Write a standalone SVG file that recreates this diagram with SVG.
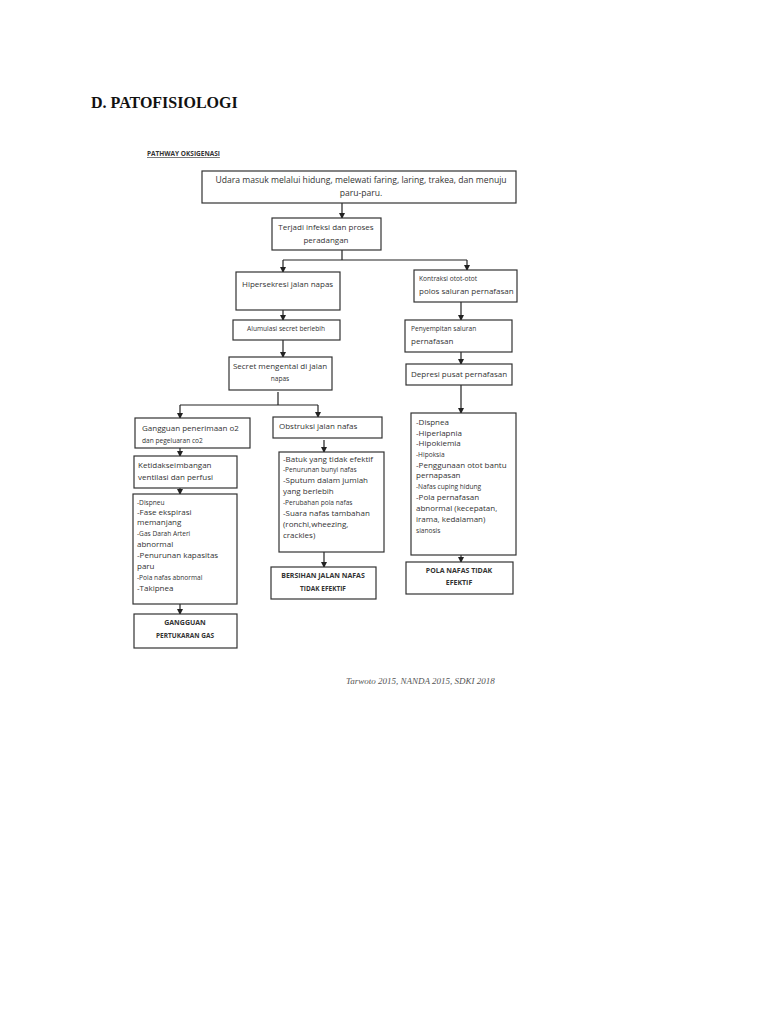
<svg xmlns="http://www.w3.org/2000/svg" width="768" height="1024" viewBox="0 0 768 1024">
<defs><marker id="ah" markerWidth="6" markerHeight="6" refX="5" refY="3" orient="auto" markerUnits="userSpaceOnUse"><path d="M0,0 L6,3 L0,6 Z" fill="#222"/></marker></defs>
<style>
.b{fill:#fff;stroke:#333;stroke-width:1.2}
text{font-family:"Open Sans","Liberation Sans",sans-serif;fill:#333;font-size:8px}
.s{font-size:6.6px}
.c{text-anchor:middle}
.k{font-weight:bold;font-size:7px}
.l{stroke:#222;stroke-width:1.2;fill:none}
</style>
<rect width="768" height="1024" fill="#fff"/>
<text x="91" y="108" style="font-family:'Liberation Serif',serif;font-weight:bold;font-size:16px;fill:#111">D. PATOFISIOLOGI</text>
<text x="147" y="156" class="k" style="font-size:6.5px;text-decoration:underline">PATHWAY OKSIGENASI</text>
<g id="connectors">
<path class="l" d="M342,203V218" marker-end="url(#ah)"/>
<path class="l" d="M342,250V260M283,260H467"/>
<path class="l" d="M283,260V272" marker-end="url(#ah)"/>
<path class="l" d="M467,260V270" marker-end="url(#ah)"/>
<path class="l" d="M283,310V320" marker-end="url(#ah)"/>
<path class="l" d="M283,340V357" marker-end="url(#ah)"/>
<path class="l" d="M278,392V405M180,405H318"/>
<path class="l" d="M180,405V418" marker-end="url(#ah)"/>
<path class="l" d="M318,405V417" marker-end="url(#ah)"/>
<path class="l" d="M180,448V456" marker-end="url(#ah)"/>
<path class="l" d="M180,488V494" marker-end="url(#ah)"/>
<path class="l" d="M180,604V614" marker-end="url(#ah)"/>
<path class="l" d="M324,440V452" marker-end="url(#ah)"/>
<path class="l" d="M324,552V567" marker-end="url(#ah)"/>
<path class="l" d="M461,302V320" marker-end="url(#ah)"/>
<path class="l" d="M461,352V364" marker-end="url(#ah)"/>
<path class="l" d="M461,385V413" marker-end="url(#ah)"/>
<path class="l" d="M461,555V562" marker-end="url(#ah)"/>
</g>
<g id="n1"><rect class="b" x="202" y="171" width="314" height="32"/><text class="c" x="361" y="183" style="font-size:8.6px">Udara masuk melalui hidung, melewati faring, laring, trakea, dan menuju</text><text class="c" x="361" y="196" style="font-size:8.6px">paru-paru.</text></g>
<g id="n2"><rect class="b" x="272" y="218" width="109" height="32"/><text class="c" x="326" y="230">Terjadi infeksi dan proses</text><text class="c" x="326" y="243">peradangan</text></g>
<g id="n3"><rect class="b" x="236" y="272" width="104" height="38"/><text x="242" y="287">Hipersekresi jalan napas</text></g>
<g id="n4"><rect class="b" x="233" y="320" width="107" height="20"/><text class="c s" x="286" y="331">Alumulasi secret berlebih</text></g>
<g id="n5"><rect class="b" x="229" y="357" width="103" height="33"/><text class="c" x="280" y="369">Secret mengental di jalan</text><text class="c s" x="280" y="381">napas</text></g>
<g id="n6"><rect class="b" x="414" y="270" width="103" height="32"/><text class="s" x="419" y="281">Kontraksi otot-otot</text><text x="419" y="294">polos saluran pernafasan</text></g>
<g id="n7"><rect class="b" x="405" y="320" width="107" height="32"/><text class="s" x="411" y="331">Penyempitan saluran</text><text x="411" y="344">pernafasan</text></g>
<g id="n8"><rect class="b" x="406" y="364" width="106" height="21"/><text x="411" y="377">Depresi pusat pernafasan</text></g>
<g id="n9"><rect class="b" x="411" y="413" width="105" height="142"/>
<text x="416" y="425">-Dispnea</text><text x="416" y="436">-Hiperlapnia</text><text x="416" y="446">-Hipokiemia</text><text class="s" x="416" y="457">-Hipoksia</text><text x="416" y="468">-Penggunaan otot bantu</text><text x="416" y="478">pernapasan</text><text class="s" x="416" y="489">-Nafas cuping hidung</text><text x="416" y="500">-Pola pernafasan</text><text x="416" y="511">abnormal (kecepatan,</text><text x="416" y="522">irama, kedalaman)</text><text class="s" x="416" y="533">sianosis</text></g>
<g id="n10"><rect class="b" x="406" y="562" width="107" height="32"/><text class="c k" x="459" y="573">POLA NAFAS TIDAK</text><text class="c k" x="459" y="585">EFEKTIF</text></g>
<g id="n11"><rect class="b" x="135" y="418" width="115" height="30"/><text x="142" y="431">Gangguan penerimaan  o2</text><text class="s" x="142" y="443">dan pegeluaran co2</text></g>
<g id="n12"><rect class="b" x="134" y="456" width="103" height="32"/><text x="138" y="468">Ketidakseimbangan</text><text x="138" y="480">ventilasi dan perfusi</text></g>
<g id="n13"><rect class="b" x="133" y="494" width="104" height="110"/>
<text class="s" x="137" y="505">-Dispneu</text><text x="137" y="515">-Fase ekspirasi</text><text x="137" y="525">memanjang</text><text class="s" x="137" y="536">-Gas Darah Arteri</text><text x="137" y="547">abnormal</text><text x="137" y="558">-Penurunan kapasitas</text><text x="137" y="569">paru</text><text class="s" x="137" y="580">-Pola nafas abnormal</text><text x="137" y="591">-Takipnea</text></g>
<g id="n14"><rect class="b" x="134" y="614" width="103" height="34"/><text class="c k" x="185" y="625">GANGGUAN</text><text class="c k" x="185" y="638" style="font-size:6.5px">PERTUKARAN GAS</text></g>
<g id="n15"><rect class="b" x="273" y="417" width="109" height="21"/><text x="279" y="429">Obstruksi jalan nafas</text></g>
<g id="n16"><rect class="b" x="279" y="452" width="105" height="100"/>
<text x="283" y="462">-Batuk yang tidak efektif</text><text class="s" x="283" y="472">-Penurunan bunyi nafas</text><text x="283" y="483">-Sputum dalam jumlah</text><text x="283" y="494">yang berlebih</text><text class="s" x="283" y="505">-Perubahan pola nafas</text><text x="283" y="516">-Suara nafas tambahan</text><text x="283" y="527">(ronchi,wheezing,</text><text x="283" y="538">crackles)</text></g>
<g id="n17"><rect class="b" x="271" y="567" width="105" height="32"/><text class="c k" x="323" y="578">BERSIHAN JALAN NAFAS</text><text class="c k" x="323" y="591" style="font-size:6.5px">TIDAK EFEKTIF</text></g>
<text x="346" y="684" style="font-family:'Liberation Serif',serif;font-style:italic;font-size:9px;fill:#555">Tarwoto 2015, NANDA 2015, SDKI 2018</text>
</svg>
